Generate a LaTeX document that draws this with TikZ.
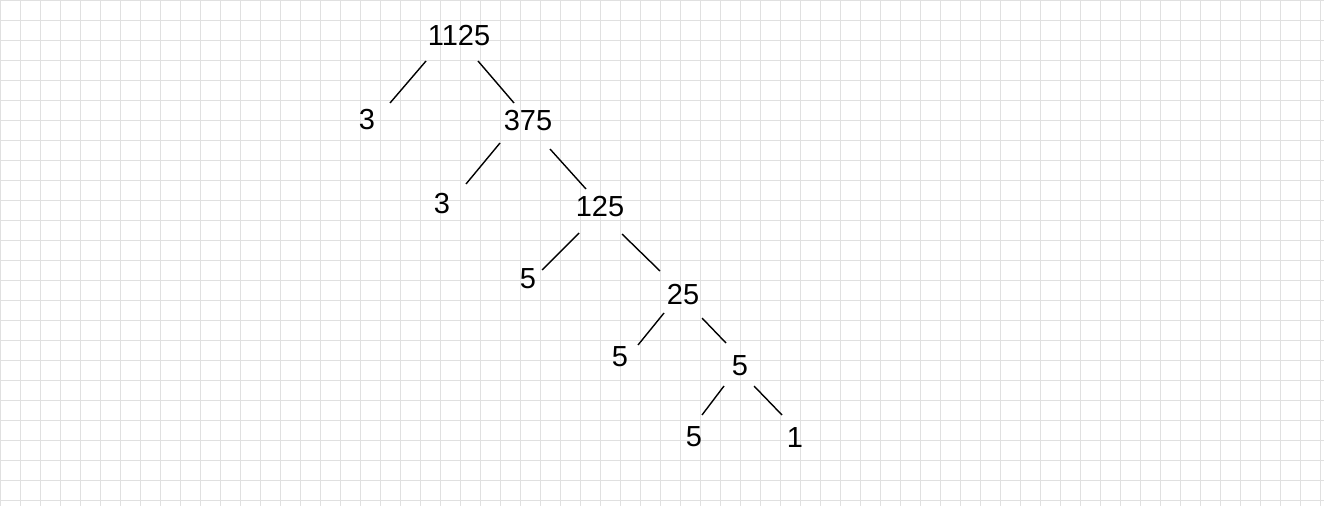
\documentclass[tikz,border=0pt]{standalone}
\usepackage{fontspec}
\setmainfont{Liberation Sans}
\begin{document}
\begin{tikzpicture}[x=1pt,y=-1pt,
  num/.style={inner sep=0pt,font=\fontsize{29}{29}\selectfont},
  edge/.style={line width=1.4pt,black}]
\useasboundingbox (0,0) rectangle (1324,506);
\fill[white] (0,0) rectangle (1324,506);
\foreach \i in {0,20,...,1320} \draw[line width=1pt,black!12] (\i,0) -- (\i,506);
\foreach \j in {0,20,...,500} \draw[line width=1pt,black!12] (0,\j) -- (1324,\j);
\node[num] (r) at (459,36) {1125};
\node[num] (a3) at (367,120) {3};
\node[num] (b375) at (528,121) {375};
\node[num] (c3) at (442,204) {3};
\node[num] (d125) at (600,207) {125};
\node[num] (e5) at (528,279) {5};
\node[num] (f25) at (683,295) {25};
\node[num] (g5) at (620,357) {5};
\node[num] (h5) at (740,366) {5};
\node[num] (i5) at (694,437) {5};
\node[num] (j1) at (795,438) {1};
\draw[edge] ([shift={(-33,25)}]r.center) -- ([shift={(23,-17)}]a3.center);
\draw[edge] ([shift={(19,25)}]r.center) -- ([shift={(-14,-18)}]b375.center);
\draw[edge] ([shift={(-28,22)}]b375.center) -- ([shift={(24,-20)}]c3.center);
\draw[edge] ([shift={(22,28)}]b375.center) -- ([shift={(-14,-18)}]d125.center);
\draw[edge] ([shift={(-21,26)}]d125.center) -- ([shift={(14,-9)}]e5.center);
\draw[edge] ([shift={(22,27)}]d125.center) -- ([shift={(-23,-24)}]f25.center);
\draw[edge] ([shift={(-19,18)}]f25.center) -- ([shift={(18,-12)}]g5.center);
\draw[edge] ([shift={(19,23)}]f25.center) -- ([shift={(-14,-23)}]h5.center);
\draw[edge] ([shift={(-16,20)}]h5.center) -- ([shift={(8,-22)}]i5.center);
\draw[edge] ([shift={(14,20)}]h5.center) -- ([shift={(-13,-23)}]j1.center);
\end{tikzpicture}
\end{document}
